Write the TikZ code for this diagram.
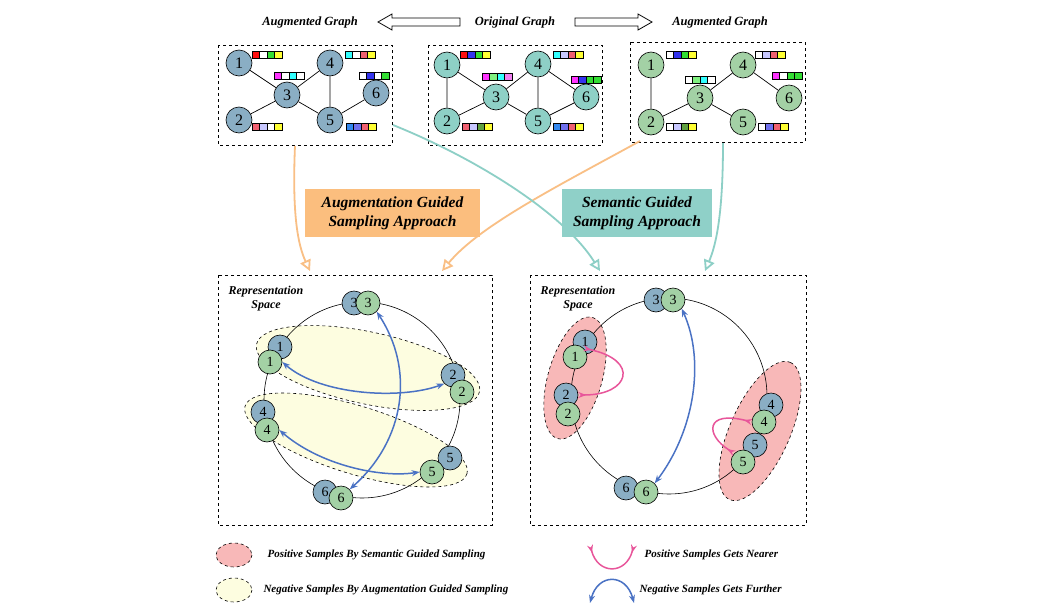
\documentclass[tikz,border=0pt]{standalone}
\usepackage{fontspec}
\setmainfont{Liberation Serif}
\usetikzlibrary{arrows.meta}
\definecolor{nb}{HTML}{8AAEC4}
\definecolor{nt}{HTML}{8ED0C6}
\definecolor{ng}{HTML}{A3D1A5}
\definecolor{cr}{HTML}{FF1010}
\definecolor{cg}{HTML}{33DD33}
\definecolor{cy}{HTML}{FFFF33}
\definecolor{cm}{HTML}{FF33FF}
\definecolor{cc}{HTML}{33FFFF}
\definecolor{cs}{HTML}{F06070}
\definecolor{cb}{HTML}{3333EE}
\definecolor{cl}{HTML}{C8C8FF}
\definecolor{cd}{HTML}{3388EE}
\definecolor{cv}{HTML}{7070EE}
\definecolor{ck}{HTML}{80F080}
\definecolor{cp}{HTML}{F080F0}
\definecolor{co}{HTML}{60A040}
\definecolor{oran}{HTML}{F9BF85}
\definecolor{teal2}{HTML}{8DCFC6}
\definecolor{obox}{HTML}{FBBE7E}
\definecolor{tbox}{HTML}{8FD0C8}
\definecolor{barr}{HTML}{4A72C4}
\definecolor{parr}{HTML}{E8559A}
\definecolor{yell}{HTML}{FDFDE0}
\definecolor{pink2}{HTML}{F8B8B8}
\newcommand{\cblk}[6]{%
  \foreach \c [count=\i from 0] in {#3,#4,#5,#6}
    \draw[line width=0.4pt,fill=\c] (#1+7.5*\i,#2) rectangle ++(7.5,7);}
\begin{document}
\begin{tikzpicture}[x=1pt,y=-1pt,
  lab/.style={font=\fontsize{12.5}{14}\selectfont\bfseries\itshape},
  leg/.style={font=\fontsize{11}{13}\selectfont\bfseries\itshape,anchor=west},
  box/.style={draw,dashed,line width=0.6pt},
  gn/.style={circle,draw,line width=0.6pt,minimum size=26pt,inner sep=0pt,font=\fontsize{16}{16}\selectfont},
  rn/.style={circle,draw,line width=0.6pt,minimum size=24pt,inner sep=0pt,font=\fontsize{14}{14}\selectfont},
  ge/.style={line width=0.7pt},
  oarr/.style={draw=oran,line width=1.8pt,-{Triangle[open,length=11pt,width=11pt]}},
  tarr/.style={draw=teal2,line width=1.8pt,-{Triangle[open,length=11pt,width=11pt]}},
  barrow/.style={draw=barr,line width=1.5pt,{Stealth[length=8pt]}-{Stealth[length=8pt]}},
  parrow/.style={draw=parr,line width=1.5pt,{Stealth[length=8pt,reversed]}-{Stealth[length=8pt,reversed]}},
  hollow/.style={draw,line width=0.8pt,fill=white}]
\useasboundingbox[fill=white] (0,0) rectangle (1050,616);
% top titles
\node[lab] (tl) at (310,22) {Augmented Graph};
\node[lab] (tm) at (515,22) {Original Graph};
\node[lab] (tr) at (720,22) {Augmented Graph};
\draw[hollow] (378,22) -- (392,14) -- (392,18) -- (460,18) -- (460,26) -- (392,26) -- (392,30) -- cycle;
\draw[hollow] (652,22) -- (638,14) -- (638,18) -- (575,18) -- (575,26) -- (638,26) -- (638,30) -- cycle;
% boxes
\draw[box] (218,45) rectangle (392,145);
\draw[box] (428,45) rectangle (602,145);
\draw[box] (630,42) rectangle (805,142);
% left graph
\begin{scope}[every node/.style={gn,fill=nb}]
\node (a1) at (239,63) {1}; \node (a4) at (330,63) {4}; \node (a3) at (287,95) {3};
\node (a6) at (376,93) {6}; \node (a2) at (239,120) {2}; \node (a5) at (330,120) {5};
\end{scope}
\begin{scope}[on background layer/.try]\end{scope}
\draw[ge] (a1)--(a3) (a2)--(a3) (a3)--(a4) (a3)--(a5) (a4)--(a5) (a5)--(a6);
\cblk{252}{51}{cr}{white}{cg}{cy}
\cblk{274}{72}{cm}{white}{cc}{white}
\cblk{345}{51}{cc}{white}{cs}{cy}
\cblk{359}{72}{white}{cb}{white}{cg}
\cblk{252}{123}{cs}{cl}{white}{cy}
\cblk{346}{123}{cd}{cv}{cs}{cy}
% middle graph
\begin{scope}[every node/.style={gn,fill=nt}]
\node (b1) at (447,65) {1}; \node (b4) at (538,64) {4}; \node (b3) at (496,97) {3};
\node (b6) at (586,97) {6}; \node (b2) at (447,121) {2}; \node (b5) at (538,121) {5};
\end{scope}
\draw[ge] (b1)--(b2) (b1)--(b3) (b2)--(b3) (b3)--(b4) (b3)--(b5) (b4)--(b5) (b4)--(b6) (b5)--(b6);
\cblk{460}{51}{cr}{cb}{cg}{cy}
\cblk{482}{73}{cm}{ck}{cc}{cp}
\cblk{553}{51}{cc}{cl}{cs}{cy}
\cblk{571}{76}{cm}{cb}{cg}{cg}
\cblk{462}{123}{cs}{cl}{co}{cy}
\cblk{553}{123}{cd}{cv}{cs}{cy}
% right graph
\begin{scope}[every node/.style={gn,fill=ng}]
\node (c1) at (651,65) {1}; \node (c4) at (743,65) {4}; \node (c3) at (700,98) {3};
\node (c6) at (789,98) {6}; \node (c2) at (651,122) {2}; \node (c5) at (743,122) {5};
\end{scope}
\draw[ge] (c1)--(c2) (c2)--(c3) (c3)--(c4) (c3)--(c5) (c4)--(c6);
\cblk{666}{51}{white}{cb}{cg}{cy}
\cblk{685}{76}{white}{ck}{cc}{white}
\cblk{755}{51}{white}{cl}{cs}{cy}
\cblk{772}{72}{cm}{white}{cg}{cg}
\cblk{666}{123}{white}{cl}{co}{cy}
\cblk{758}{123}{white}{cv}{cs}{cy}
% middle connectors
\coordinate (o1s) at (295,146); \coordinate (o1e) at (310,271);
\coordinate (o2s) at (640,141); \coordinate (o2e) at (442,271);
\coordinate (t1s) at (393,125); \coordinate (t1e) at (600,271);
\coordinate (t2s) at (723,143); \coordinate (t2e) at (705,271);
\draw[oarr] (o1s) .. controls (292,215) and (298,245) .. (o1e);
\draw[oarr] (o2s) .. controls (560,185) and (480,225) .. (o2e);
\draw[tarr] (t1s) .. controls (480,160) and (565,215) .. (t1e);
\draw[tarr] (t2s) .. controls (723,215) and (716,245) .. (t2e);
\node[fill=obox,minimum width=175pt,minimum height=48pt,align=center,font=\fontsize{15.5}{19}\selectfont\bfseries\itshape] (ob) at (392.5,213) {Augmentation Guided\\Sampling Approach};
\node[fill=tbox,minimum width=150pt,minimum height=48pt,align=center,font=\fontsize{15.5}{19}\selectfont\bfseries\itshape] (tb) at (637,213) {Semantic Guided\\Sampling Approach};
% bottom boxes
\draw[box] (218,275) rectangle (492,525);
\draw[box] (530,275) rectangle (806,525);
\node[align=center,font=\fontsize{12}{14}\selectfont\bfseries\itshape] (rs1) at (266,299) {Representation\\Space};
\node[align=center,font=\fontsize{12}{14}\selectfont\bfseries\itshape] (rs2) at (578,299) {Representation\\Space};
% left panel
\fill[yell,rotate around={-12:(368,368)}] (368,368) ellipse [x radius=114, y radius=36];
\fill[yell,rotate around={-17:(356,440)}] (356,440) ellipse [x radius=116, y radius=34];
\draw[line width=0.6pt] (362,400) circle [radius=98];
\draw[dashed,line width=0.6pt,rotate around={-12:(368,368)}] (368,368) ellipse [x radius=114, y radius=36];
\draw[dashed,line width=0.6pt,rotate around={-17:(356,440)}] (356,440) ellipse [x radius=116, y radius=34];
\node[rn,fill=nb] (l3b) at (354,303) {3}; \node[rn,fill=ng] (l3g) at (368,303) {3};
\node[rn,fill=nb] (l1b) at (280,347) {1}; \node[rn,fill=ng] (l1g) at (270,362) {1};
\node[rn,fill=nb] (l2b) at (453,375) {2}; \node[rn,fill=ng] (l2g) at (462,392) {2};
\node[rn,fill=nb] (l4b) at (263,412) {4}; \node[rn,fill=ng] (l4g) at (267,430) {4};
\node[rn,fill=nb] (l5b) at (450,458) {5}; \node[rn,fill=ng] (l5g) at (432,472) {5};
\node[rn,fill=nb] (l6b) at (325,492) {6}; \node[rn,fill=ng] (l6g) at (341,498) {6};
\draw[barrow] (l1g.east) .. controls (320,395) and (400,400) .. (l2b.south west);
\draw[barrow] (l4g.east) .. controls (320,465) and (380,478) .. (l5g.west);
\draw[barrow] (l3g.south east) .. controls (415,370) and (405,440) .. (l6g.north east);
% right panel
\fill[pink2,rotate around={74:(575,378)}] (575,378) ellipse [x radius=63, y radius=27];
\fill[pink2,rotate around={66:(760,431)}] (760,431) ellipse [x radius=75, y radius=30];
\draw[line width=0.6pt] (669,396) circle [radius=98];
\draw[dashed,line width=0.6pt,rotate around={74:(575,378)}] (575,378) ellipse [x radius=63, y radius=27];
\draw[dashed,line width=0.6pt,rotate around={66:(760,431)}] (760,431) ellipse [x radius=75, y radius=30];
\node[rn,fill=nb] (r3b) at (656,300) {3}; \node[rn,fill=ng] (r3g) at (673,300) {3};
\node[rn,fill=nb] (r1b) at (585,342) {1}; \node[rn,fill=ng] (r1g) at (575,357) {1};
\node[rn,fill=nb] (r2b) at (566,395) {2}; \node[rn,fill=ng] (r2g) at (568,414) {2};
\node[rn,fill=nb] (r4b) at (771,405) {4}; \node[rn,fill=ng] (r4g) at (764,422) {4};
\node[rn,fill=nb] (r5b) at (755,445) {5}; \node[rn,fill=ng] (r5g) at (743,462) {5};
\node[rn,fill=nb] (r6b) at (626,488) {6}; \node[rn,fill=ng] (r6g) at (646,492) {6};
\draw[parrow] (r1g.north east) .. controls (640,360) and (630,395) .. (r2b.east);
\draw[parrow] (r4g.west) .. controls (705,410) and (705,435) .. (r5g.north west);
\draw[barrow] (r3g.south east) .. controls (705,360) and (695,430) .. (r6g.north east);
% legend
\draw[dashed,line width=0.6pt,fill=pink2] (234,555) ellipse [x radius=18, y radius=12];
\draw[dashed,line width=0.6pt,fill=yell] (234,590) ellipse [x radius=18, y radius=12];
\node[leg] (lg1) at (264,555) {Positive Samples By Semantic Guided Sampling};
\node[leg] (lg2) at (260,590) {Negative Samples By Augmentation Guided Sampling};
\coordinate (pa) at (590,545); \coordinate (pb) at (634,545);
\coordinate (ba) at (590,603); \coordinate (bb) at (634,603);
\draw[parrow] (pa) .. controls (598,575) and (626,575) .. (pb);
\draw[barrow] (ba) .. controls (598,573) and (626,573) .. (bb);
\node[leg] (lg3) at (641,555) {Positive Samples Gets Nearer};
\node[leg] (lg4) at (636,590) {Negative Samples Gets Further};
\end{tikzpicture}
\end{document}
